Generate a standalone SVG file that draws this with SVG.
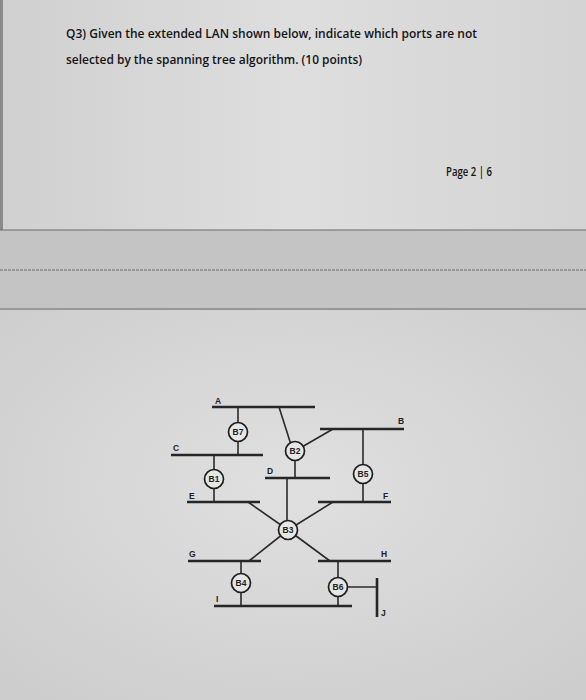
<svg xmlns="http://www.w3.org/2000/svg" width="586" height="700" viewBox="0 0 586 700">
<defs>
<style>
.q{font-family:"Open Sans","Liberation Sans",sans-serif;font-size:13px;font-weight:600;fill:#141414}
.lan{stroke:#262626;stroke-width:2.6;fill:none}
.link{stroke:#2a2a2a;stroke-width:1.6;fill:none}
.br{fill:#e6e6e6;stroke:#1e1e1e;stroke-width:1.7}
.bt{font-family:"Liberation Sans",Arial,sans-serif;font-size:8.5px;font-weight:bold;fill:#222;text-anchor:middle}
.lb{font-family:"Liberation Sans",Arial,sans-serif;font-size:8.5px;font-weight:bold;fill:#222}
</style>
<radialGradient id="bg2" cx="0.5" cy="0.45" r="0.7">
<stop offset="0" stop-color="#e0e0e0"/>
<stop offset="1" stop-color="#cdcdcd"/>
</radialGradient>
<linearGradient id="bg1" x1="0" y1="0" x2="1" y2="0">
<stop offset="0" stop-color="#d0d0d0"/>
<stop offset="0.5" stop-color="#dedede"/>
<stop offset="1" stop-color="#d4d4d4"/>
</linearGradient>
</defs>
<rect x="0" y="0" width="586" height="230" fill="url(#bg1)"/>
<rect x="0" y="230" width="586" height="80" fill="#c4c4c4"/>
<rect x="0" y="310" width="586" height="390" fill="url(#bg2)"/>
<rect x="0" y="0" width="3" height="230" fill="#8a8a8a"/>
<line x1="0" y1="230" x2="586" y2="230" stroke="#6a6a6a" stroke-width="1"/>
<line x1="0" y1="270" x2="586" y2="270" stroke="#6a6a6a" stroke-width="1" stroke-dasharray="3,1"/>
<line x1="0" y1="309" x2="586" y2="309" stroke="#6a6a6a" stroke-width="1"/>
<text class="q" x="66" y="38" textLength="411" lengthAdjust="spacingAndGlyphs">Q3) Given the extended LAN shown below, indicate which ports are not</text>
<text class="q" x="66" y="64" textLength="296" lengthAdjust="spacingAndGlyphs">selected by the spanning tree algorithm. (10 points)</text>
<text class="q" x="446" y="176" font-size="11.5" textLength="46" lengthAdjust="spacingAndGlyphs">Page 2 | 6</text>
<g id="connectors">
<line class="link" x1="238" y1="407" x2="238" y2="455"/>
<line class="link" x1="279" y1="407" x2="293" y2="451"/>
<line class="link" x1="295" y1="451" x2="333" y2="429"/>
<line class="link" x1="295" y1="451" x2="295" y2="478"/>
<line class="link" x1="363" y1="429" x2="363" y2="502"/>
<line class="link" x1="214" y1="455" x2="214" y2="502"/>
<line class="link" x1="287" y1="478" x2="287" y2="530"/>
<line class="link" x1="248" y1="502" x2="288" y2="530"/>
<line class="link" x1="333" y1="502" x2="288" y2="530"/>
<line class="link" x1="288" y1="530" x2="249" y2="561"/>
<line class="link" x1="288" y1="530" x2="330" y2="561"/>
<line class="link" x1="241" y1="561" x2="241" y2="606"/>
<line class="link" x1="338" y1="561" x2="338" y2="606"/>
<line class="link" x1="338" y1="587" x2="377" y2="587"/>
</g>
<g id="lan-A"><line class="lan" x1="212" y1="407" x2="315" y2="407"/><text class="lb" x="215" y="404">A</text></g>
<g id="lan-B"><line class="lan" x1="320" y1="429" x2="404" y2="429"/><text class="lb" x="398" y="424">B</text></g>
<g id="lan-C"><line class="lan" x1="171" y1="455" x2="263" y2="455"/><text class="lb" x="173" y="451">C</text></g>
<g id="lan-D"><line class="lan" x1="265" y1="478" x2="330" y2="478"/><text class="lb" x="267" y="474">D</text></g>
<g id="lan-E"><line class="lan" x1="187" y1="502" x2="260" y2="502"/><text class="lb" x="189" y="499">E</text></g>
<g id="lan-F"><line class="lan" x1="318" y1="502" x2="391" y2="502"/><text class="lb" x="383" y="499">F</text></g>
<g id="lan-G"><line class="lan" x1="188" y1="561" x2="261" y2="561"/><text class="lb" x="189" y="557">G</text></g>
<g id="lan-H"><line class="lan" x1="318" y1="561" x2="391" y2="561"/><text class="lb" x="381" y="557">H</text></g>
<g id="lan-I"><line class="lan" x1="214" y1="606" x2="352" y2="606"/><text class="lb" x="216" y="602">I</text></g>
<g id="lan-J"><line class="lan" x1="377" y1="578" x2="377" y2="617"/><text class="lb" x="381" y="616">J</text></g>
<g id="B7"><circle class="br" cx="238" cy="432" r="9.5"/><text class="bt" x="238" y="435">B7</text></g>
<g id="B2"><circle class="br" cx="295" cy="451" r="9.5"/><text class="bt" x="295" y="454">B2</text></g>
<g id="B5"><circle class="br" cx="363" cy="474" r="9.5"/><text class="bt" x="363" y="477">B5</text></g>
<g id="B1"><circle class="br" cx="214" cy="479" r="9.5"/><text class="bt" x="214" y="482">B1</text></g>
<g id="B3"><circle class="br" cx="288" cy="530" r="9.5"/><text class="bt" x="288" y="533">B3</text></g>
<g id="B4"><circle class="br" cx="241" cy="583" r="9.5"/><text class="bt" x="241" y="586">B4</text></g>
<g id="B6"><circle class="br" cx="338" cy="587" r="9.5"/><text class="bt" x="338" y="590">B6</text></g>
</svg>
